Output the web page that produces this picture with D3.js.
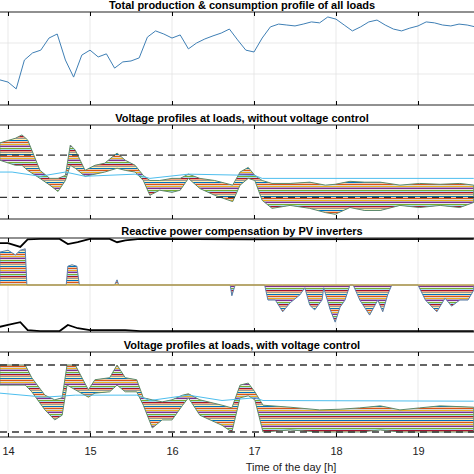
<!DOCTYPE html>
<html><head><meta charset="utf-8">
<script src="https://cdn.jsdelivr.net/npm/d3@7"></script>
<style>body{margin:0;background:#fff}svg{font-family:"Liberation Sans",Arial,sans-serif}</style>
</head><body><div id="chart"></div>
<script>
// hours shown on the x axis
var hourTicks = [14, 15, 16, 17, 18, 19];

// panel 1: total production & consumption
var prodT = [13.9,14.0,14.1,14.2,14.3,14.4,14.5,14.6,14.7,14.8,14.9,15.0,15.1,15.2,15.3,15.4,15.5,15.6,15.7,15.8,15.9,16.0,16.1,16.2,16.3,16.4,16.5,16.6,16.7,16.8,16.9,17.0,17.1,17.2,17.3,17.4,17.5,17.6,17.7,17.8,17.9,18.0,18.1,18.2,18.3,18.4,18.5,18.6,18.7,18.8,18.9,19.0,19.1,19.2,19.3,19.4,19.5,19.6,19.7];
var prodV = [0.81,0.74,0.52,1.45,1.68,1.77,2.16,2.29,1.45,0.90,1.61,1.77,1.55,1.65,1.19,1.39,1.42,1.52,2.19,2.39,2.29,2.16,2.26,1.81,2.0,2.13,2.23,2.32,2.45,2.10,1.77,1.71,2.16,2.52,2.61,2.58,2.55,2.61,2.68,2.65,2.84,2.77,2.58,2.39,2.52,2.68,2.74,2.58,2.45,2.39,2.48,2.55,2.68,2.65,2.58,2.55,2.61,2.58,2.52];

// panel 2: voltage envelope without control (p.u.)
var noCtrlT = [13.90,14.09,14.17,14.24,14.39,14.51,14.61,14.70,14.76,14.82,14.94,15.06,15.18,15.33,15.43,15.55,15.65,15.73,15.85,16.0,16.10,16.20,16.34,16.52,16.74,16.83,16.93,17.01,17.10,17.22,17.44,17.68,17.87,17.99,18.17,18.35,18.54,18.78,19.02,19.27,19.51,19.68];
var noCtrlMax = [1.079,1.090,1.098,1.086,1.014,0.995,0.995,1.002,1.074,1.062,1.014,1.026,1.031,1.055,1.038,1.026,1.002,0.990,0.990,0.995,0.995,1.005,0.995,0.990,0.979,1.010,1.021,1.002,0.990,0.983,0.983,0.986,0.979,0.981,0.988,0.986,0.986,0.979,0.983,0.981,0.983,0.979];
var noCtrlMin = [1.038,1.026,1.026,1.014,0.995,0.979,0.964,0.990,1.026,1.019,1.0,1.005,1.010,1.019,1.014,1.010,0.990,0.955,0.967,0.962,0.967,0.995,0.971,0.955,0.940,0.979,0.995,0.990,0.943,0.924,0.931,0.924,0.914,0.910,0.926,0.919,0.919,0.931,0.926,0.931,0.926,0.938];
var noCtrlRefT = [13.90,14.05,14.39,14.70,14.94,15.55,15.73,16.20,17.01,17.10,19.68];
var noCtrlRef = [1.010,1.010,1.000,1.010,1.000,1.005,0.995,1.005,1.002,0.995,0.995];

// panel 3: reactive power (normalised) and inverter limits
var qT = [13.90,14.00,14.09,14.15,14.21,14.23,14.71,14.73,14.78,14.84,14.87,15.30,15.33,15.35,16.71,16.73,16.77,17.13,17.17,17.26,17.35,17.44,17.56,17.62,17.68,17.74,17.83,17.85,17.93,17.99,18.05,18.11,18.17,18.21,18.29,18.41,18.51,18.57,18.63,18.68,19.00,19.09,19.15,19.23,19.33,19.41,19.51,19.61,19.68];
var qV = [0.70,0.74,0.64,0.74,0.77,0,0,0.40,0.43,0.40,0,0,0.11,0,0,-0.23,0,0,-0.32,-0.32,-0.57,-0.38,-0.21,-0.06,-0.43,-0.53,-0.32,-0.06,-0.53,-0.79,-0.47,-0.32,0,0,-0.32,-0.64,-0.32,-0.57,-0.21,0,0,-0.32,-0.43,-0.57,-0.28,-0.45,-0.32,-0.32,-0.11];
var limT = [13.90,14.00,14.15,14.24,14.39,14.63,14.73,14.85,15.0,15.24,15.33,15.43,15.61,16.95,19.68];
var limMax = [0.89,0.89,0.81,0.97,0.98,0.98,0.87,0.91,0.98,0.98,0.91,0.95,0.98,0.97,0.98];
var limMin = [-0.89,-0.85,-0.79,-0.96,-0.98,-0.98,-0.85,-0.92,-0.96,-0.96,-0.96,-0.96,-0.98,-0.98,-0.98];

// panel 4: voltage envelope with control (p.u.)
var ctrlT = [13.90,14.21,14.29,14.45,14.57,14.66,14.72,14.82,14.98,15.06,15.24,15.33,15.43,15.57,15.65,15.76,15.88,16.0,16.13,16.20,16.34,16.61,16.73,16.83,16.93,17.01,17.11,17.44,17.80,18.05,18.29,18.54,18.78,19.02,19.27,19.68];
var ctrlMax = [1.050,1.050,1.031,1.005,0.998,1.001,1.050,1.050,1.013,1.028,1.031,1.050,1.031,1.028,1.001,0.998,0.995,0.998,1.005,1.007,0.998,0.990,0.986,1.020,1.023,1.010,0.990,0.987,0.983,0.984,0.986,0.989,0.983,0.986,0.989,0.987];
var ctrlMin = [1.020,1.020,1.010,0.983,0.968,0.975,1.020,1.013,1.002,1.008,1.010,1.020,1.010,1.010,0.990,0.956,0.968,0.968,0.990,1.001,0.975,0.960,0.950,1.001,1.004,0.998,0.950,0.953,0.950,0.950,0.950,0.953,0.950,0.950,0.950,0.950];
var ctrlRefT = [13.90,14.45,14.82,15.57,15.73,16.20,16.61,17.01,17.11,19.68];
var ctrlRef = [1.008,1.002,1.005,1.005,0.997,1.005,0.997,1.001,0.997,0.996];

var vLimits = [0.95, 1.05];
var lineColors = ['#0072BD','#f2c9a8','#D95319','#d8d8d8','#EDB120','#b9a3c6','#7E2F8E','#e8e8e8','#77AC30','#a6dcef','#A2142F','#f4a582','#999999','#fff2b3'];

var W = 474, H = 474;
var svg = d3.select('#chart').append('svg').attr('width', W).attr('height', H);

var x = d3.scaleLinear().domain([14 - 8/82, 14 + 466/82]).range([0, W]);

// multicolour stripe pattern to stand in for the many load curves
var pat = svg.append('defs').append('pattern').attr('id', 'stripes')
  .attr('patternUnits', 'userSpaceOnUse').attr('width', 8).attr('height', lineColors.length);
lineColors.forEach(function(c, i) {
  pat.append('rect').attr('x', 0).attr('y', i).attr('width', 8).attr('height', 1).attr('fill', c);
});

var panels = [
  {title: 'Total production & consumption profile of all loads', top: 12, bottom: 105, dom: [0, 3], hgrid: [1, 2]},
  {title: 'Voltage profiles at loads, without voltage control', top: 125, bottom: 219, dom: [1 - 42.5/420, 1 + 51/420]},
  {title: 'Reactive power compensation by PV inverters', top: 238, bottom: 332, dom: [-1, 1]},
  {title: 'Voltage profiles at loads, with voltage control', top: 352, bottom: 437, dom: [1 - 38.5/670, 1 + 46.5/670]}
];

panels.forEach(function(p) {
  p.y = d3.scaleLinear().domain(p.dom).range([p.bottom, p.top]);
  var g = svg.append('g');
  p.g = g;
  g.selectAll('.vg').data(hourTicks).enter().append('line')
    .attr('x1', x).attr('x2', x).attr('y1', p.top).attr('y2', p.bottom)
    .attr('stroke', '#e3e3e3').attr('stroke-width', 0.8);
  (p.hgrid || []).forEach(function(v) {
    g.append('line').attr('x1', 0).attr('x2', W).attr('y1', p.y(v)).attr('y2', p.y(v))
      .attr('stroke', '#e3e3e3').attr('stroke-width', 0.8);
  });
  svg.append('text').attr('x', W / 2 + 5).attr('y', p.top - 3).attr('text-anchor', 'middle')
    .attr('font-size', 11).attr('font-weight', 'bold').text(p.title);
});

var line = function(sc) {
  return d3.line().x(function(d) { return x(d[0]); }).y(function(d) { return sc(d[1]); });
};
var zip = function(a, b) { return a.map(function(t, i) { return [t, b[i]]; }); };

// panel 1
var p1 = panels[0];
p1.g.append('path').datum(zip(prodT, prodV)).attr('d', line(p1.y))
  .attr('fill', 'none').attr('stroke', '#3f7fb5').attr('stroke-width', 1);

// voltage panels
function voltPanel(p, T, vmax, vmin, refT, ref) {
  p.g.append('path').datum(T.map(function(t, i) { return [t, vmax[i], vmin[i]]; }))
    .attr('d', d3.area().x(function(d) { return x(d[0]); })
      .y0(function(d) { return p.y(d[2]); }).y1(function(d) { return p.y(d[1]); }))
    .attr('fill', 'url(#stripes)').attr('stroke', '#5f8a6a').attr('stroke-width', 1);
  p.g.append('path').datum(zip(refT, ref)).attr('d', line(p.y))
    .attr('fill', 'none').attr('stroke', '#4DBEEE').attr('stroke-width', 1);
  vLimits.forEach(function(v) {
    p.g.append('line').attr('x1', 0).attr('x2', W).attr('y1', p.y(v)).attr('y2', p.y(v))
      .attr('stroke', '#333').attr('stroke-width', 1.3).attr('stroke-dasharray', '7,5');
  });
}
voltPanel(panels[1], noCtrlT, noCtrlMax, noCtrlMin, noCtrlRefT, noCtrlRef);
voltPanel(panels[3], ctrlT, ctrlMax, ctrlMin, ctrlRefT, ctrlRef);

// panel 3
var p3 = panels[2];
p3.g.append('path').datum(zip(qT, qV))
  .attr('d', d3.area().x(function(d) { return x(d[0]); }).y0(p3.y(0)).y1(function(d) { return p3.y(d[1]); }))
  .attr('fill', 'url(#stripes)').attr('stroke', '#5a7fa8').attr('stroke-width', 1);
p3.g.append('line').attr('x1', 0).attr('x2', W).attr('y1', p3.y(0)).attr('y2', p3.y(0))
  .attr('stroke', '#EDB120').attr('stroke-width', 1);
[limMax, limMin].forEach(function(arr) {
  p3.g.append('path').datum(zip(limT, arr)).attr('d', line(p3.y))
    .attr('fill', 'none').attr('stroke', '#000').attr('stroke-width', 1.8);
});

// frames and inner ticks
panels.forEach(function(p) {
  svg.append('rect').attr('x', -1).attr('y', p.top).attr('width', W + 2).attr('height', p.bottom - p.top)
    .attr('fill', 'none').attr('stroke', '#222').attr('stroke-width', 1);
  svg.append('g').attr('transform', 'translate(0,' + p.bottom + ')')
    .call(d3.axisBottom(x).tickValues(hourTicks).tickSize(-4).tickFormat(''))
    .call(function(a) { a.select('.domain').remove(); });
  svg.append('g').attr('transform', 'translate(0,' + p.top + ')')
    .call(d3.axisTop(x).tickValues(hourTicks).tickSize(-4).tickFormat(''))
    .call(function(a) { a.select('.domain').remove(); });
});

var last = panels[3];
svg.append('g').attr('transform', 'translate(0,' + last.bottom + ')')
  .call(d3.axisBottom(x).tickValues(hourTicks).tickSize(0).tickPadding(10).tickFormat(d3.format('d')))
  .call(function(a) { a.select('.domain').remove(); a.selectAll('text').attr('font-size', 11).attr('fill', '#222'); });

svg.append('text').attr('x', x(17.5) - 4).attr('y', 471).attr('text-anchor', 'middle')
  .attr('font-size', 11).attr('fill', '#222').text('Time of the day [h]');
</script>
</body></html>
